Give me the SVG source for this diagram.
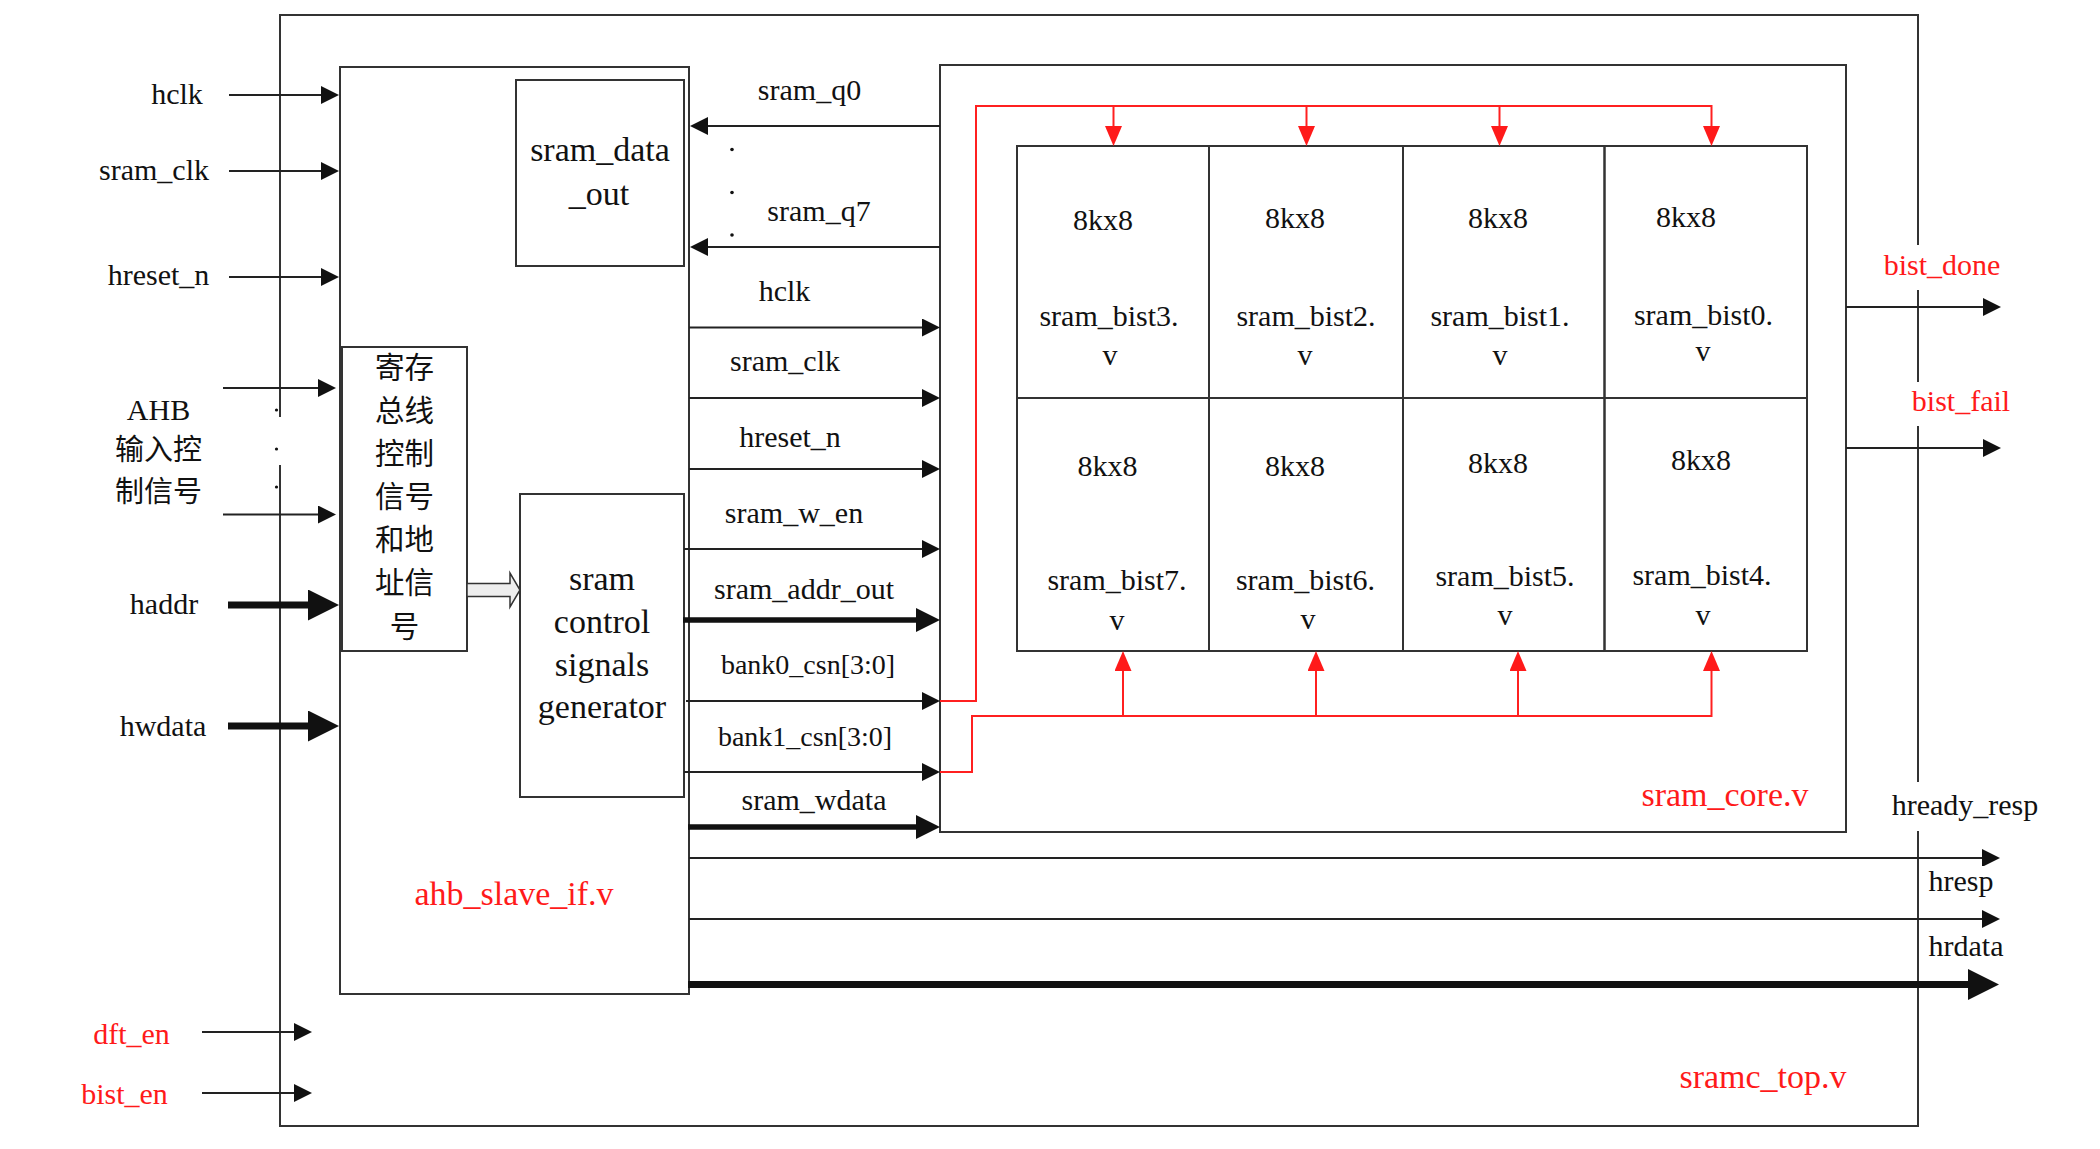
<svg xmlns="http://www.w3.org/2000/svg" width="2100" height="1149" viewBox="0 0 2100 1149">
<style>
.box{fill:none;stroke:#333;stroke-width:2}
.ln{fill:none;stroke:#222;stroke-width:2}
.tk{fill:none;stroke:#111;stroke-width:7}
.tk2{fill:none;stroke:#111;stroke-width:5.5}
.rl{fill:none;stroke:#ff2020;stroke-width:2}
text{font-family:"Liberation Serif","Times New Roman",serif;font-size:30px;fill:#111;text-anchor:middle}
.m{font-size:34px}
.red{fill:#ff1a1a}
.cjk{font-family:"Noto Sans CJK SC","Noto Sans",sans-serif;font-size:29px}
.cjk2{font-family:"Noto Sans CJK SC","Noto Sans",sans-serif;font-size:29.5px}
.bg{fill:#fff;stroke:none}
.dot{fill:#111}
</style>
<defs>
<marker id="a" markerUnits="userSpaceOnUse" markerWidth="18" markerHeight="18" refX="0" refY="9" orient="auto"><path d="M0,0 L18,9 L0,18 z" fill="#111"/></marker>
<marker id="A31" markerUnits="userSpaceOnUse" markerWidth="32" markerHeight="31" refX="0" refY="15.5" orient="auto"><path d="M0,0 L31,15.5 L0,31 z" fill="#111"/></marker>
<marker id="A24" markerUnits="userSpaceOnUse" markerWidth="25" markerHeight="24" refX="0" refY="12" orient="auto"><path d="M0,0 L24,12 L0,24 z" fill="#111"/></marker>
<marker id="r" markerUnits="userSpaceOnUse" markerWidth="20" markerHeight="17" refX="0" refY="8.5" orient="auto"><path d="M0,0 L20,8.5 L0,17 z" fill="#ff1a1a"/></marker>
</defs>

<g id="sramc_top">
<rect class="box" x="280" y="15" width="1638" height="1111"/>
<rect class="bg" x="274" y="417" width="12" height="48"/>
<circle class="dot" cx="276.5" cy="410" r="1.6"/>
<circle class="dot" cx="276.5" cy="449" r="1.6"/>
<circle class="dot" cx="276.5" cy="487" r="1.6"/>
<text class="m red" x="1763" y="1088">sramc_top.v</text>
</g>

<g id="ahb_slave_if">
<rect class="box" x="340" y="67" width="349" height="927"/>
<text class="m red" x="514" y="905">ahb_slave_if.v</text>
</g>

<g id="sram_data_out">
<rect class="box" x="516" y="80" width="168" height="186"/>
<text class="m" x="600" y="161">sram_data</text>
<text class="m" x="599" y="205">_out</text>
</g>

<g id="reg_signals">
<rect class="box" x="342" y="347" width="125" height="304"/>
<text class="cjk2" x="404.5" y="378"><tspan x="404.5" y="378">寄存</tspan><tspan x="404.5" y="421">总线</tspan><tspan x="404.5" y="464">控制</tspan><tspan x="404.5" y="507">信号</tspan><tspan x="404.5" y="550">和地</tspan><tspan x="404.5" y="593">址信</tspan><tspan x="404.5" y="637">号</tspan></text>
</g>

<g id="ctrl_gen">
<rect class="box" x="520" y="494" width="164" height="303"/>
<text class="m" x="602" y="590">sram</text>
<text class="m" x="602" y="633">control</text>
<text class="m" x="602" y="676">signals</text>
<text class="m" x="602" y="718">generator</text>
</g>

<g id="sram_core">
<rect class="box" x="940" y="65" width="906" height="767"/>
<text class="m red" x="1725" y="806">sram_core.v</text>
</g>

<g id="bist3"><rect class="box" x="1017" y="146" width="192" height="252"/>
<text x="1103" y="230">8kx8</text><text x="1109" y="326">sram_bist3.</text><text x="1110" y="365">v</text></g>
<g id="bist2"><rect class="box" x="1209" y="146" width="194" height="252"/>
<text x="1295" y="228">8kx8</text><text x="1306" y="326">sram_bist2.</text><text x="1305" y="365">v</text></g>
<g id="bist1"><rect class="box" x="1403" y="146" width="201.5" height="252"/>
<text x="1498" y="228">8kx8</text><text x="1500" y="326">sram_bist1.</text><text x="1500" y="365">v</text></g>
<g id="bist0"><rect class="box" x="1604.5" y="146" width="202.5" height="252"/>
<text x="1686" y="227">8kx8</text><text x="1703.5" y="324.5">sram_bist0.</text><text x="1703" y="361">v</text></g>
<g id="bist7"><rect class="box" x="1017" y="398" width="192" height="253"/>
<text x="1107.5" y="476">8kx8</text><text x="1117" y="590">sram_bist7.</text><text x="1117" y="630">v</text></g>
<g id="bist6"><rect class="box" x="1209" y="398" width="194" height="253"/>
<text x="1295" y="476">8kx8</text><text x="1305.5" y="590">sram_bist6.</text><text x="1308" y="629">v</text></g>
<g id="bist5"><rect class="box" x="1403" y="398" width="201.5" height="253"/>
<text x="1498" y="473">8kx8</text><text x="1505" y="586">sram_bist5.</text><text x="1505" y="624.5">v</text></g>
<g id="bist4"><rect class="box" x="1604.5" y="398" width="202.5" height="253"/>
<text x="1701" y="470">8kx8</text><text x="1702" y="585">sram_bist4.</text><text x="1703" y="624.5">v</text></g>

<g id="connectors">
<line class="ln" x1="229" y1="95" x2="321" y2="95" marker-end="url(#a)"/>
<line class="ln" x1="229" y1="171" x2="321" y2="171" marker-end="url(#a)"/>
<line class="ln" x1="229" y1="277" x2="321" y2="277" marker-end="url(#a)"/>
<line class="ln" x1="223" y1="388" x2="318" y2="388" marker-end="url(#a)"/>
<line class="ln" x1="223" y1="514.5" x2="318" y2="514.5" marker-end="url(#a)"/>
<line class="tk" x1="228" y1="605" x2="308" y2="605" marker-end="url(#A31)"/>
<line class="tk" x1="228" y1="726" x2="308" y2="726" marker-end="url(#A31)"/>
<line class="ln" x1="202" y1="1032" x2="294" y2="1032" marker-end="url(#a)"/>
<line class="ln" x1="202" y1="1093" x2="294" y2="1093" marker-end="url(#a)"/>
<path d="M467,583.5 L510,583.5 L510,573 L520,590 L510,607 L510,596.5 L467,596.5 z" fill="#eeeeee" stroke="#333" stroke-width="1.5"/>
<line class="ln" x1="940" y1="126" x2="708" y2="126" marker-end="url(#a)"/>
<line class="ln" x1="940" y1="247" x2="708" y2="247" marker-end="url(#a)"/>
<circle class="dot" cx="732" cy="149.5" r="1.8"/>
<circle class="dot" cx="732" cy="192.5" r="1.8"/>
<circle class="dot" cx="732" cy="235" r="1.8"/>
<line class="ln" x1="689" y1="327.5" x2="922" y2="327.5" marker-end="url(#a)"/>
<line class="ln" x1="689" y1="398" x2="922" y2="398" marker-end="url(#a)"/>
<line class="ln" x1="689" y1="469" x2="922" y2="469" marker-end="url(#a)"/>
<line class="ln" x1="684" y1="549" x2="922" y2="549" marker-end="url(#a)"/>
<line class="tk2" x1="683" y1="620" x2="916" y2="620" marker-end="url(#A24)"/>
<line class="ln" x1="686" y1="701" x2="922" y2="701" marker-end="url(#a)"/>
<line class="ln" x1="684" y1="772" x2="922" y2="772" marker-end="url(#a)"/>
<line class="tk2" x1="688" y1="827" x2="916" y2="827" marker-end="url(#A24)"/>
<line class="ln" x1="689" y1="858" x2="1982" y2="858" marker-end="url(#a)"/>
<line class="ln" x1="689" y1="919" x2="1982" y2="919" marker-end="url(#a)"/>
<line class="tk" x1="688" y1="984.5" x2="1968" y2="984.5" marker-end="url(#A31)"/>
<line class="ln" x1="1846" y1="307" x2="1983" y2="307" marker-end="url(#a)"/>
<line class="ln" x1="1846" y1="448" x2="1983" y2="448" marker-end="url(#a)"/>
<polyline class="rl" points="940,701 976,701 976,106 1711.5,106"/>
<line class="rl" x1="1113.5" y1="106" x2="1113.5" y2="126" marker-end="url(#r)"/>
<line class="rl" x1="1306.5" y1="106" x2="1306.5" y2="126" marker-end="url(#r)"/>
<line class="rl" x1="1499.5" y1="106" x2="1499.5" y2="126" marker-end="url(#r)"/>
<line class="rl" x1="1711.5" y1="105" x2="1711.5" y2="126" marker-end="url(#r)"/>
<polyline class="rl" points="940,772 972,772 972,716 1711.5,716"/>
<line class="rl" x1="1123" y1="716" x2="1123" y2="671" marker-end="url(#r)"/>
<line class="rl" x1="1316" y1="716" x2="1316" y2="671" marker-end="url(#r)"/>
<line class="rl" x1="1518" y1="716" x2="1518" y2="671" marker-end="url(#r)"/>
<line class="rl" x1="1711.5" y1="717" x2="1711.5" y2="671" marker-end="url(#r)"/>
</g>

<g id="labels">
<text x="177" y="104">hclk</text>
<text x="154" y="180">sram_clk</text>
<text x="158.5" y="285">hreset_n</text>
<text x="158.5" y="420">AHB</text>
<text class="cjk" x="158.5" y="460">输入控</text>
<text class="cjk" x="158.5" y="502">制信号</text>
<text x="164" y="613.5">haddr</text>
<text x="163" y="735.5">hwdata</text>
<text class="red" x="131.5" y="1043.5">dft_en</text>
<text class="red" x="124.5" y="1104">bist_en</text>

<text x="809.5" y="100">sram_q0</text>
<text x="819" y="221">sram_q7</text>
<text x="784.5" y="301">hclk</text>
<text x="785" y="371">sram_clk</text>
<text x="790" y="447">hreset_n</text>
<text x="794" y="522.5">sram_w_en</text>
<text x="804" y="599">sram_addr_out</text>
<text x="808" y="674" style="font-size:28px">bank0_csn[3:0]</text>
<text x="805" y="745.5" style="font-size:28px">bank1_csn[3:0]</text>
<text x="814" y="810">sram_wdata</text>

<rect class="bg" x="1880" y="245" width="124" height="45"/>
<text class="red" x="1942" y="275">bist_done</text>
<rect class="bg" x="1908" y="382" width="106" height="44"/>
<text class="red" x="1961" y="411">bist_fail</text>
<rect class="bg" x="1888" y="782" width="155" height="49"/>
<text x="1965" y="815">hready_resp</text>
<rect class="bg" x="1926" y="866" width="70" height="36"/>
<text x="1961" y="891">hresp</text>
<rect class="bg" x="1926" y="934" width="80" height="30"/>
<text x="1966" y="956">hrdata</text>
</g>
</svg>
